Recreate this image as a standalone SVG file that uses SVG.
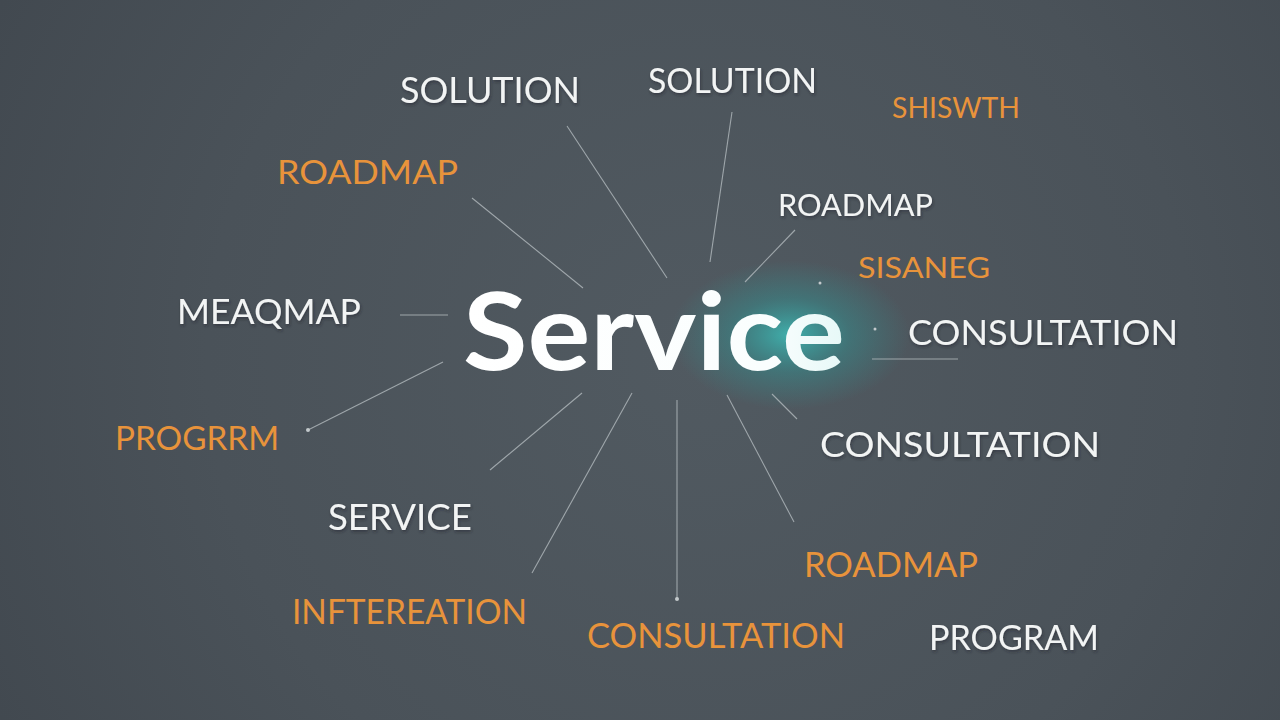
<svg xmlns="http://www.w3.org/2000/svg" width="1280" height="720" viewBox="0 0 1280 720">
<defs>
<radialGradient id="bg" cx="700" cy="360" r="820" gradientUnits="userSpaceOnUse">
<stop offset="0" stop-color="#515a61"/>
<stop offset="0.6" stop-color="#4a5259"/>
<stop offset="1" stop-color="#41484f"/>
</radialGradient>
<radialGradient id="glow" cx="790" cy="335" r="120" gradientUnits="userSpaceOnUse" gradientTransform="translate(790 335) scale(1 0.62) translate(-790 -335)">
<stop offset="0" stop-color="#3cc6c0" stop-opacity="0.8"/>
<stop offset="0.5" stop-color="#2d9e9c" stop-opacity="0.38"/>
<stop offset="1" stop-color="#2d9e9c" stop-opacity="0"/>
</radialGradient>
<linearGradient id="svc" x1="463" y1="0" x2="845" y2="0" gradientUnits="userSpaceOnUse">
<stop offset="0" stop-color="#ffffff"/>
<stop offset="0.8" stop-color="#fafefe"/>
<stop offset="1" stop-color="#e6f8f7"/>
</linearGradient>
<filter id="sh" x="-10%" y="-30%" width="120%" height="160%">
<feDropShadow dx="1" dy="2" stdDeviation="1.5" flood-color="#1e2327" flood-opacity="0.5"/>
</filter>
</defs>
<style>
.lbl{font-family:Lato,"Open Sans","Liberation Sans",sans-serif;font-weight:400;}
.w{fill:#f2f4f4;filter:url(#sh);}
.o{fill:#e8933b;}
.ln{stroke:#b3babe;stroke-width:1.1;stroke-opacity:0.8;fill:none;}
.dot{fill:#c3c9cc;}
</style>
<rect width="1280" height="720" fill="url(#bg)"/>
<ellipse cx="790" cy="335" rx="135" ry="82" fill="url(#glow)"/>

<g id="connectors">
<line class="ln" x1="567" y1="126" x2="667" y2="278"/>
<line class="ln" x1="732" y1="112" x2="710" y2="262"/>
<line class="ln" x1="472" y1="198" x2="583" y2="288"/>
<line class="ln" x1="795" y1="230" x2="745" y2="282"/>
<line class="ln" x1="400" y1="315" x2="448" y2="315"/>
<line class="ln" x1="443" y1="362" x2="308" y2="430"/>
<line class="ln" x1="872" y1="359" x2="958" y2="359"/>
<line class="ln" x1="772" y1="394" x2="797" y2="419"/>
<line class="ln" x1="727" y1="395" x2="794" y2="522"/>
<line class="ln" x1="677" y1="400" x2="677" y2="598"/>
<line class="ln" x1="632" y1="393" x2="532" y2="573"/>
<line class="ln" x1="582" y1="393" x2="490" y2="470"/>
<circle class="dot" cx="308" cy="430" r="2"/>
<circle class="dot" cx="677" cy="599" r="2"/>
<circle class="dot" cx="820" cy="283" r="1.5"/>
<circle class="dot" cx="875" cy="329" r="1.5"/>
</g>

<g id="center">
<text x="463" y="370" font-family="Lato,'Open Sans','Liberation Sans',sans-serif" font-weight="700" font-size="108" fill="url(#svc)" textLength="382" lengthAdjust="spacingAndGlyphs">Service</text>
</g>

<g id="n-solution-1"><text class="lbl w" x="400" y="103" font-size="36" textLength="180" lengthAdjust="spacingAndGlyphs">SOLUTION</text></g>
<g id="n-solution-2"><text class="lbl w" x="648" y="93" font-size="34" textLength="169" lengthAdjust="spacingAndGlyphs">SOLUTION</text></g>
<g id="n-shsiwth"><text class="lbl o" x="892" y="118" font-size="28" textLength="128" lengthAdjust="spacingAndGlyphs">SHISWTH</text></g>
<g id="n-roadmap-1"><text class="lbl o" x="277" y="184" font-size="33" textLength="181" lengthAdjust="spacingAndGlyphs">ROADMAP</text></g>
<g id="n-roadmap-2"><text class="lbl w" x="778" y="216" font-size="31" textLength="155" lengthAdjust="spacingAndGlyphs">ROADMAP</text></g>
<g id="n-sisaneg"><text class="lbl o" x="858" y="278" font-size="28" textLength="132" lengthAdjust="spacingAndGlyphs">SISANEG</text></g>
<g id="n-meaqmap"><text class="lbl w" x="177" y="324" font-size="34" textLength="184" lengthAdjust="spacingAndGlyphs">MEAQMAP</text></g>
<g id="n-consultation-1"><text class="lbl w" x="908" y="345" font-size="34" textLength="270" lengthAdjust="spacingAndGlyphs">CONSULTATION</text></g>
<g id="n-progrrm"><text class="lbl o" x="115" y="450" font-size="32" textLength="164" lengthAdjust="spacingAndGlyphs">PROGRRM</text></g>
<g id="n-consultation-2"><text class="lbl w" x="820" y="457" font-size="34" textLength="280" lengthAdjust="spacingAndGlyphs">CONSULTATION</text></g>
<g id="n-service"><text class="lbl w" x="328" y="530" font-size="36" textLength="144" lengthAdjust="spacingAndGlyphs">SERVICE</text></g>
<g id="n-roadmap-3"><text class="lbl o" x="804" y="577" font-size="34" textLength="174" lengthAdjust="spacingAndGlyphs">ROADMAP</text></g>
<g id="n-inftereation"><text class="lbl o" x="292" y="624" font-size="35" textLength="235" lengthAdjust="spacingAndGlyphs">INFTEREATION</text></g>
<g id="n-consultation-3"><text class="lbl o" x="587" y="648" font-size="34" textLength="258" lengthAdjust="spacingAndGlyphs">CONSULTATION</text></g>
<g id="n-program"><text class="lbl w" x="929" y="650" font-size="34" textLength="170" lengthAdjust="spacingAndGlyphs">PROGRAM</text></g>
</svg>
